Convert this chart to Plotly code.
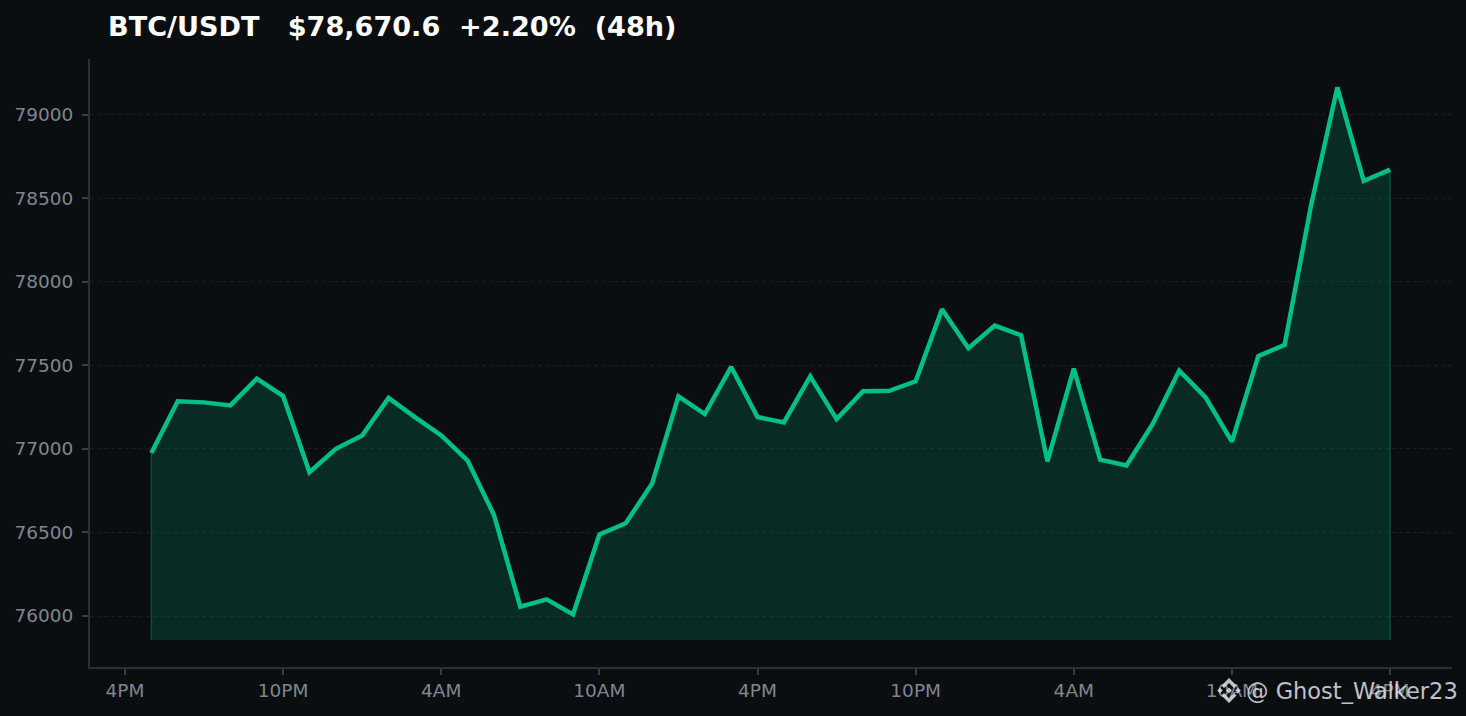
import plotly.graph_objects as go

hours = [1,2,3,4,5,6,7,8,9,10,11,12,13,14,15,16,17,18,19,20,21,22,23,24,
         25,26,27,28,29,30,31,32,33,34,35,36,37,38,39,40,41,42,43,44,45,46,47,48]
prices = [76975,77285,77278,77260,77420,77316,76860,77000,77080,77305,77190,77080,76930,76604,76056,76100,
          76010,76488,76555,76792,77314,77208,77490,77190,77158,77434,77178,77344,77347,77404,77835,77602,
          77737,77680,76925,77480,76935,76900,77150,77468,77308,77043,77555,77622,78455,79162,78602,78670.6]
base_price = 75856
tick_hours = [0,6,12,18,24,30,36,42,48]
tick_labels = ["4PM","10PM","4AM","10AM","4PM","10PM","4AM","10AM","4PM"]
price_ticks = [76000,76500,77000,77500,78000,78500,79000]
title_text = "BTC/USDT   $78,670.6  +2.20%  (48h)"
watermark = "@ Ghost_Walker23"

BG = "#0b0e11"
GREEN = "#00c087"
TICK = "#7f8690"
W, H = 1466, 716
L, R, T, B = 90, 14, 59, 49
FONT = "DejaVu Sans"
LOGO = "rgba(225,228,232,0.85)"

def px(x):
    return (x - L) / (W - L - R)

def py(y):
    return (H - B - y) / (H - T - B)

fig = go.Figure()
fig.add_trace(go.Scatter(
    x=[hours[0]] + hours + [hours[-1]],
    y=[base_price] + prices + [base_price],
    mode="lines", fill="toself", fillcolor="rgba(0,192,135,0.17)",
    line=dict(color="rgba(0,192,135,0.3)", width=1.5), hoverinfo="skip", showlegend=False))
fig.add_trace(go.Scatter(x=hours, y=prices, mode="lines",
    line=dict(color=GREEN, width=4.5), showlegend=False))

# Exchange logo beside the watermark, placed in page pixels
def poly(points):
    path = "M" + " L".join(f"{px(a)},{py(b)}" for a, b in points) + " Z"
    return dict(type="path", xref="paper", yref="paper", layer="above",
                path=path, fillcolor=LOGO, line=dict(width=0))

def diamond(cx, cy, r):
    return poly([(cx - r, cy), (cx, cy - r), (cx + r, cy), (cx, cy + r)])

def chevron(cx, cy, s):
    offsets = [(-7.5, -5), (0, -12.5), (7.5, -5), (5, -2.5), (0, -7.5), (-5, -2.5)]
    return poly([(cx + a, cy + s * b) for a, b in offsets])

shapes = [chevron(1229, 690.5, 1), chevron(1229, 690.5, -1),
          diamond(1229, 690.5, 3), diamond(1220, 690.5, 2.8), diamond(1238, 690.5, 2.8)]

fig.update_layout(
    width=W, height=H, autosize=False,
    paper_bgcolor=BG, plot_bgcolor=BG,
    margin=dict(l=L, r=R, t=T, b=B),
    font=dict(family=FONT, size=18, color=TICK),
    title=dict(text=f"<b>{title_text}</b>", x=108/W, xanchor="left", xref="container",
               y=1-27/H, yanchor="middle", yref="container",
               font=dict(size=27.1, color="#ffffff", family=FONT)),
    xaxis=dict(range=[-1.328, 50.35], tickmode="array", tickvals=tick_hours, ticktext=tick_labels,
               showgrid=False, zeroline=False, showline=True, linecolor="#2b2f36", linewidth=2,
               ticks="outside", ticklen=6, tickwidth=2, tickcolor="#3a3f47",
               tickfont=dict(size=18.5, color=TICK)),
    yaxis=dict(range=[75695, 79332], tickmode="array", tickvals=price_ticks, tickformat="d",
               showgrid=True, gridcolor="#1a1f23", griddash="4px,3px", gridwidth=1, zeroline=False,
               showline=True, linecolor="#2b2f36", linewidth=2,
               ticks="outside", ticklen=6, tickwidth=2, tickcolor="#3a3f47",
               ticklabelstandoff=5, tickfont=dict(size=18.5, color=TICK)),
    shapes=shapes,
    annotations=[dict(text=watermark, xref="paper", yref="paper", x=px(1460), y=py(691),
                      xanchor="right", yanchor="middle", showarrow=False,
                      font=dict(size=22.5, color=LOGO, family=FONT))],
)

fig.write_html("out.html", config={"displayModeBar": False},
               post_script="document.body.style.margin='0';document.body.style.background='#0b0e11';")
